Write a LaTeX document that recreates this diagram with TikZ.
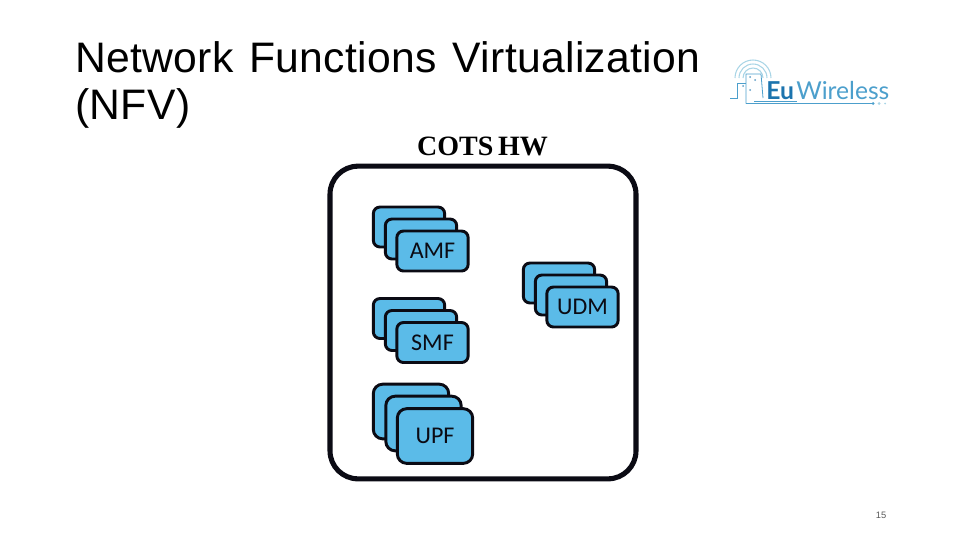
\documentclass[tikz,border=0pt]{standalone}
\usepackage{fontspec}
\setmainfont{Liberation Sans}
\newfontfamily\titlefont[LetterSpace=0.7]{Liberation Sans}
\newfontfamily\labelfont{Carlito}
\newfontfamily\hwfont{Liberation Serif}
\newfontfamily\logofont{Lato}
\newcommand{\titlesize}{\titlefont\fontsize{32}{32}\selectfont\spaceskip=12pt\relax}
\newcommand{\cotssize}{\hwfont\bfseries\fontsize{21}{21}\selectfont\spaceskip=3.5pt\relax}
\definecolor{nfblue}{HTML}{5BBBE8}
\definecolor{nfline}{HTML}{0B0B14}
\definecolor{logodark}{HTML}{1C74AE}
\definecolor{logomid}{HTML}{4C9FCC}
\definecolor{logolight}{HTML}{A9D5E6}
\begin{document}
\begin{tikzpicture}[x=0.75pt,y=-0.75pt]

    % ============================
    % Page and title
    % ============================

    \tikzstyle{nf}=[rectangle,rounded corners=5pt,draw=nfline,fill=nfblue,line width=2.2pt,
            minimum width=53.5pt,minimum height=30pt,inner sep=0pt,text=nfline,
            font=\labelfont\fontsize{18}{18}\selectfont]
    \tikzstyle{nfbig}=[nf,minimum width=56.5pt,minimum height=41pt,rounded corners=7pt]
    \tikzstyle{logoarc}=[logolight,line width=0.8pt]
    \tikzstyle{logoline}=[logomid,line width=0.6pt]
    \tikzstyle{titleline}=[anchor=west,inner sep=0pt,font=\titlesize]

    \useasboundingbox (0,0) rectangle (960,540);

    \node[titleline] (title1) at (75,57)
            {Network Functions Virtualization};
    \node[titleline] (title2) at (75,108)
            {(NFV)};

    \node[inner sep=0pt,font=\cotssize] (cots) at (482.5,146)
            {COTS HW};

    \node[rectangle,rounded corners=21pt,draw=nfline,line width=3.8pt,
            minimum width=229.5pt,minimum height=234.5pt] (hw) at (483,322.5) {};

    % ============================
    % AMF
    % ============================

    \node[nf] (amfa) at (409,227) {};
    \node[nf] (amfb) at (421,239) {};
    \node[nf] (amf) at (432.5,251) {AMF};

    % ============================
    % UDM
    % ============================

    \node[nf] (udma) at (559,283) {};
    \node[nf] (udmb) at (571,295) {};
    \node[nf] (udm) at (582.5,307) {UDM};

    % ============================
    % SMF
    % ============================

    \node[nf] (smfa) at (409,318.5) {};
    \node[nf] (smfb) at (421,330.5) {};
    \node[nf] (smf) at (432.5,342.5) {SMF};

    % ============================
    % UPF
    % ============================

    \node[nfbig] (upfa) at (411,411.5) {};
    \node[nfbig] (upfb) at (423.5,423.5) {};
    \node[nfbig] (upf) at (435,436) {UPF};

    % ============================
    % Logo
    % ============================

    \draw[logoarc] (735,78) arc (180:360:18);
    \draw[logoarc] (739,78) arc (180:360:14);
    \draw[logoarc] (743,78) arc (180:360:10);
    \draw[logoline] (730,98) -- (737,98) -- (737,83) -- (746,83);
    \fill[white] (746,74) rectangle (762,100);
    \draw[logoline] (746,103.5) -- (746,74) -- (761,74) -- (763,98);
    \draw[logoline] (746,103.5) -- (873,103.5);
    \draw[logoline] (754,101.5) -- (797,101.5);
    \fill[logodark!70] (743,86) circle (1) (750,90) circle (1) (750,77) circle (1) (755,80) circle (1);
    \fill[logomid] (873,103.5) circle (1.5);
    \fill[logolight] (879,103.5) circle (1.5) (885,103.5) circle (1);
    \node[anchor=base west,inner sep=0pt,text=logodark,font=\logofont\bfseries\fontsize{18.5}{18.5}\selectfont] (logoeu) at (766,99.5) {Eu};
    \node[anchor=base west,inner sep=0pt,text=logomid,font=\logofont\fontsize{18.5}{18.5}\selectfont] (logowl) at (796,99.5) {Wireless};

    % ============================
    % Page number
    % ============================

    \node[inner sep=0pt,text=black!65,font=\fontsize{7}{7}\selectfont] (pagenum) at (881,515) {15};

\end{tikzpicture}
\end{document}
